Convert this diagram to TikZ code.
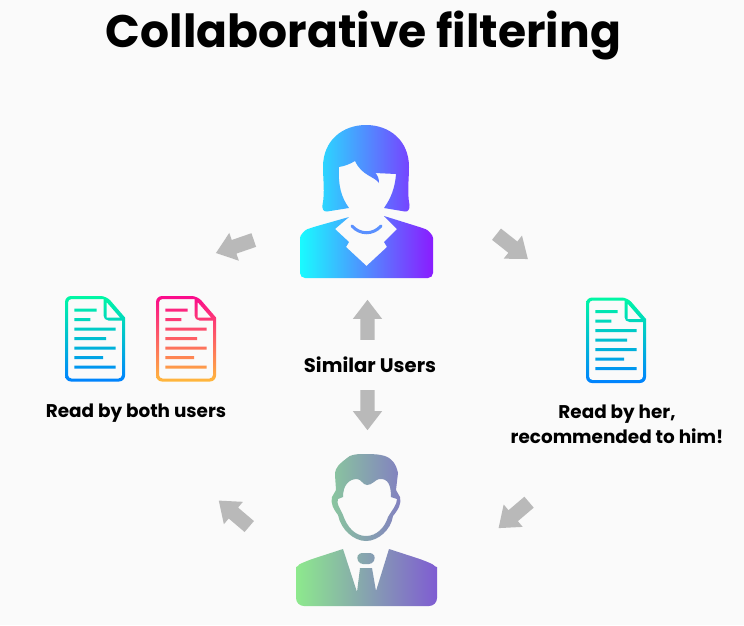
\documentclass[tikz,border=0pt]{standalone}
\usepackage{fontspec}
\setmainfont{Poppins}
\usetikzlibrary{shapes.arrows}

\definecolor{backgray}{HTML}{FAFAFA}
\definecolor{arrowgray}{HTML}{B9B9B9}
\definecolor{hercyan}{HTML}{19FBFF}
\definecolor{herviolet}{HTML}{8A1CFF}
\definecolor{herneck}{HTML}{5A90FF}
\definecolor{himgreen}{HTML}{8DE98D}
\definecolor{himviolet}{HTML}{7F5CD2}
\definecolor{docgreen}{HTML}{00F8A4}
\definecolor{docblue}{HTML}{0082FF}
\definecolor{docpink}{HTML}{FB0A8C}
\definecolor{docorange}{HTML}{FFB83C}

\tikzset{
	bigarrow/.style={single arrow, fill=arrowgray, inner sep=7pt, minimum height=40pt, single arrow head extend=7.5pt, single arrow head indent=0pt, single arrow tip angle=75, outer sep=0pt},
	caption/.style={font=\bfseries\fontsize{18.4}{25}\selectfont, align=center, inner sep=0pt},
	docpage/.pic={
		\shade[even odd rule, shading angle=-18, top color=\doctop, bottom color=\docbot]
			[rounded corners=6pt] (0,42) -- (0,0) -- (41.5,0) [sharp corners] -- (60,21.5) [rounded corners=6pt] -- (60,85.5) -- (0,85.5) -- cycle
			[rounded corners=3.5pt] (3,42) -- (3,3) [sharp corners] -- (38.5,3) [rounded corners=5pt] -- (38.5,24.5) [sharp corners] -- (57,24.5) [rounded corners=3.5pt] -- (57,82.5) -- (3,82.5) -- cycle
			[rounded corners=4pt] (41.5,6) [sharp corners] -- (41.5,21.5) [sharp corners] -- (55,21.5) -- cycle
			[sharp corners] (9.3,12.5) rectangle (31.7,15.5) (9.3,22.2) rectangle (25.3,25.2)
			(9.3,31.5) rectangle (50.7,34.5) (9.3,41.2) rectangle (41,44.2)
			(9.3,50.5) rectangle (50.7,53.5) (9.3,60.2) rectangle (38,63.2)
			(9.3,69.5) rectangle (50.7,72.5);
	}
}

\begin{document}
\begin{tikzpicture}[x=1pt,y=-1pt]
	\fill[backgray] (0,0) rectangle (744,625);
	\useasboundingbox (0,0) rectangle (744,625);

	\node (title) at (363.5,36) {\bfseries\fontsize{45.6}{54}\selectfont Collaborative filtering};

	% woman
	\shade[even odd rule, left color=hercyan, right color=herviolet]
		(349,208) -- (327,211.5) .. controls (323,212) and (322,208) .. (322.5,205)
		.. controls (325,192) and (323,180) .. (323,167)
		.. controls (323,140) and (343,125) .. (366,125)
		.. controls (389,125) and (409,140) .. (409,167)
		.. controls (409,180) and (407,192) .. (409.5,205)
		.. controls (410,209) and (408,212) .. (405,211.5) -- (384,208)
		.. controls (391,198) and (395,188) .. (396,174) -- (375,173)
		.. controls (378,175) and (379,179) .. (379,183)
		.. controls (374,176) and (362,176) .. (355,161)
		.. controls (350,164) and (345,166) .. (339,167)
		.. controls (338,185) and (341,197) .. (349,208) -- cycle
		[rounded corners=5pt] (349,217) -- (312,227.5) .. controls (305,230) and (300,235) .. (300,243) -- (300,278) -- (433,278) -- (433,243)
		.. controls (433,235) and (428,230) .. (421,227.5) [sharp corners] -- (384,216) -- (397,229) -- (384,242) -- (387,247) -- (366.5,266) -- (346,247) -- (349,242) -- (335,229) -- cycle;
	\draw[herneck, line width=3pt, line cap=round] (352,226) .. controls (360,235) and (373,235) .. (381,226);

	% man
	\shade[even odd rule, left color=himgreen, right color=himviolet]
		(363,454) .. controls (355,454) and (350,455) .. (347,458)
		.. controls (341,463) and (335,466) .. (335,475)
		-- (336,490) -- (332,497) .. controls (330,503) and (334,510) .. (338,515)
		.. controls (341,530) and (354,541) .. (366,541)
		.. controls (378,541) and (391,530) .. (393,516)
		.. controls (398,510) and (402,503) .. (400,497) -- (396,490) -- (398,473)
		.. controls (396,463) and (391,458) .. (385,456)
		.. controls (379,454) and (370,454) .. (363,454) -- cycle
		(357,479) .. controls (349,479) and (343,485) .. (343,497)
		-- (338,499) .. controls (336,504) and (340,508) .. (343,515)
		.. controls (347,527) and (355,536) .. (366,536)
		.. controls (377,536) and (385,527) .. (388,517)
		.. controls (392,510) and (397,505) .. (397,499) -- (391,497)
		.. controls (391,485) and (388,478) .. (379,479)
		.. controls (375,480) and (372,485) .. (367,485)
		.. controls (363,485) and (361,479) .. (357,479) -- cycle
		[rounded corners=8pt] (343,549) -- (306,561) .. controls (300,564) and (296,568) .. (296,575) -- (296,606) -- (437,606) -- (437,575)
		.. controls (437,568) and (432,564) .. (426,561) [sharp corners] -- (389,549) -- (376,591) -- (372,568) -- (360,568) -- (357,592) -- cycle
		[rounded corners=3pt] (359,553) -- (373,553) -- (375.5,558) -- (372,564) -- (360,564) -- (356.5,558) -- cycle;

	% pages
	\def\doctop{docgreen}\def\docbot{docblue}
	\pic at (65,296) {docpage};
	\pic at (586,297.5) {docpage};
	\def\doctop{docpink}\def\docbot{docorange}
	\pic at (156,296) {docpage};

	\node[bigarrow, rotate=90] (simup) at (367.5,324.5) {};
	\node[bigarrow, rotate=-90] (simdown) at (367.5,405.5) {};
	\node[bigarrow, rotate=199] (sheleft) at (239.3,245) {};
	\node[bigarrow, rotate=-38.4] (sheright) at (508.5,243.7) {};
	\node[bigarrow, rotate=139.6] (heleft) at (237.6,516.6) {};
	\node[bigarrow, rotate=-139.6] (heright) at (517.4,512.1) {};

	\node[caption, font=\bfseries\fontsize{19.6}{25}\selectfont] (similar) at (370,365) {Similar Users};
	\node[caption] (both) at (136,413) {Read by both users};
	\node[caption] (her) at (617,424) {Read by her,\\recommended to him!};
\end{tikzpicture}
\end{document}
